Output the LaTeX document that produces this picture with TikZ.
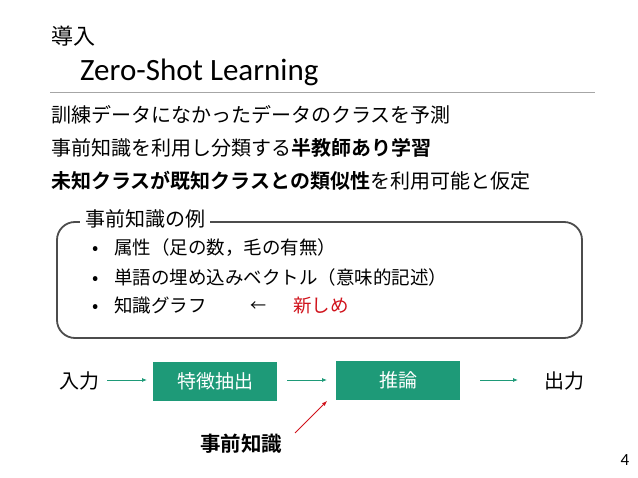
\documentclass[tikz,border=0pt]{standalone}
\usepackage{fontspec}
\usetikzlibrary{arrows.meta}
\setmainfont{Noto Sans CJK JP}[BoldFont={Noto Sans CJK JP Bold}]
\newfontfamily\latinf{Carlito}
\definecolor{tgreen}{HTML}{1E9A78}
\definecolor{tred}{HTML}{D0121B}
\begin{document}
\begin{tikzpicture}[x=1pt,y=-1pt,
  txt/.style={anchor=west,inner sep=0pt,font=\fontsize{20}{24}\selectfont},
  btxt/.style={anchor=west,inner sep=0pt,font=\fontsize{18.5}{22}\selectfont},
  gbox/.style={fill=tgreen,minimum width=124pt,minimum height=39pt,text=white,inner sep=0pt,font=\fontsize{19}{22}\selectfont},
  flow/.style={draw=tgreen,thick,-{Latex[length=5pt,width=4pt]}}]
\useasboundingbox (0,0) rectangle (638,478);
\node[txt,font=\fontsize{22}{24}\selectfont] (t1) at (51,36) {導入};
\node[anchor=west,inner sep=0pt,font=\latinf\fontsize{31}{34}\selectfont] (t2) at (80,72) {Zero-Shot Learning};
\draw[gray!70] (50,92) -- (595,92);
\node[txt] (l1) at (51,115) {訓練データになかったデータのクラスを予測};
\node[txt] (l2) at (51,148) {事前知識を利用し分類する\textbf{半教師あり学習}};
\node[txt] (l3) at (51,181) {\textbf{未知クラスが既知クラスとの類似性}を利用可能と仮定};
\draw[line width=1.8pt,draw=black!70,rounded corners=18pt] (57,222) rectangle (582,338);
\node[txt,fill=white,inner xsep=5pt,inner ysep=3pt] (ex) at (80,219) {事前知識の例};
\node[btxt] (b1) at (92,248) {•\hspace{16pt}属性（足の数，毛の有無）};
\node[btxt] (b2) at (92,277) {•\hspace{16pt}単語の埋め込みベクトル（意味的記述）};
\node[btxt] (b3) at (92,306) {•\hspace{16pt}知識グラフ};
\node[btxt,font=\fontsize{16}{20}\selectfont] (ar) at (250,307) {←};
\node[btxt,text=tred] (new) at (293,306) {新しめ};
\node[txt] (in) at (59,381) {入力};
\node[gbox] (f1) at (215,381.5) {特徴抽出};
\node[gbox] (f2) at (398,380.5) {推論};
\node[txt] (out) at (544,381) {出力};
\coordinate (a1s) at (107,380); \coordinate (a1e) at (147,380);
\coordinate (a2s) at (287,380); \coordinate (a2e) at (327,380);
\coordinate (a3s) at (480,380); \coordinate (a3e) at (518,380);
\draw[flow] (a1s) -- (a1e);
\draw[flow] (a2s) -- (a2e);
\draw[flow] (a3s) -- (a3e);
\node[btxt,font=\bfseries\fontsize{20.5}{24}\selectfont] (pk) at (200,444) {事前知識};
\coordinate (rs) at (295,433); \coordinate (re) at (327,401);
\draw[tred,thick,-{Latex[length=5pt,width=4pt]}] (rs) -- (re);
\node[anchor=center,inner sep=0pt,font=\latinf\fontsize{17}{20}\selectfont] (pg) at (625,460) {4};
\end{tikzpicture}
\end{document}
